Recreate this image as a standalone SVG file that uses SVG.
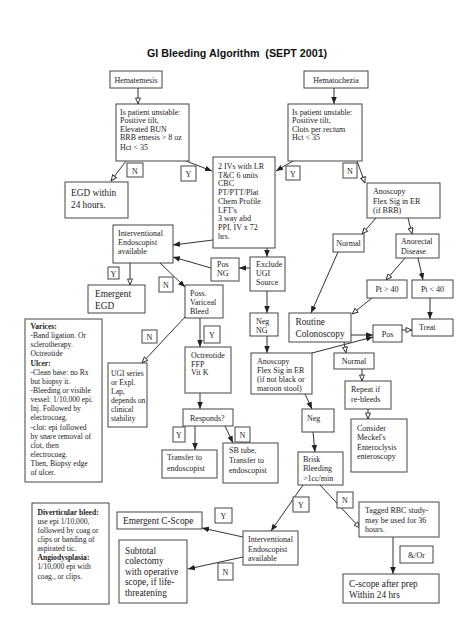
<svg xmlns="http://www.w3.org/2000/svg" width="474" height="620" viewBox="0 0 474 620">
<style>
.b{fill:#fff;stroke:#444;stroke-width:1}
.t{font-family:"Liberation Serif","Times New Roman",serif;font-size:8px;fill:#222}
.L{font-size:9.3px}
.s{font-size:7.6px}
.m{text-anchor:middle}
.bo{font-weight:bold}
.c line{stroke:#333;stroke-width:1}
.f{marker-end:url(#af)}
.h{marker-end:url(#ah)}
</style>
<defs>
<marker id="af" viewBox="0 0 10 10" refX="10" refY="5" markerWidth="7" markerHeight="7" markerUnits="userSpaceOnUse" orient="auto"><path d="M0,1 L10,5 L0,9 z" fill="#222"/></marker>
<marker id="ah" viewBox="0 0 10 10" refX="9.5" refY="5" markerWidth="7" markerHeight="7" markerUnits="userSpaceOnUse" orient="auto"><path d="M1,1.5 L9,5 L1,8.5 z" fill="#fff" stroke="#222" stroke-width="1.3"/></marker>
</defs>
<rect width="474" height="620" fill="#fff"/>
<text x="147" y="57" font-family="Liberation Sans,Arial,sans-serif" font-weight="bold" font-size="10.7" fill="#111" style="white-space:pre">GI Bleeding Algorithm  (SEPT 2001)</text>

<g class="c">
<line class="h" x1="138" y1="88" x2="138" y2="104"/>
<line class="f" x1="334" y1="88" x2="334" y2="104"/>
<line class="h" x1="126" y1="161" x2="111" y2="181"/>
<line class="f" x1="186" y1="161" x2="212" y2="171"/>
<line class="f" x1="293" y1="161" x2="276" y2="171"/>
<line class="h" x1="357" y1="161" x2="365" y2="183"/>
<line class="h" x1="376" y1="218" x2="362" y2="234"/>
<line class="h" x1="408" y1="218" x2="412" y2="234"/>
<line class="h" x1="405" y1="258" x2="386" y2="280"/>
<line class="f" x1="418" y1="258" x2="423" y2="280"/>
<line class="f" x1="430" y1="298" x2="430" y2="319"/>
<line class="f" x1="338" y1="252" x2="311" y2="313"/>
<line class="h" x1="372" y1="298" x2="352" y2="314"/>
<line class="f" x1="351" y1="335" x2="373" y2="335"/>
<line class="f" x1="312" y1="353" x2="373" y2="337"/>
<line class="h" x1="402" y1="330" x2="412" y2="330"/>
<line class="h" x1="344" y1="342" x2="346" y2="353"/>
<line class="h" x1="362" y1="369" x2="362" y2="381"/>
<line class="h" x1="368" y1="409" x2="368" y2="419"/>
<line class="f" x1="213" y1="240" x2="173" y2="245"/>
<line class="f" x1="211" y1="268" x2="173" y2="257"/>
<line class="f" x1="250" y1="268" x2="239" y2="268"/>
<line class="f" x1="267" y1="248" x2="267" y2="257"/>
<line class="h" x1="130" y1="263" x2="130" y2="285"/>
<line class="f" x1="160" y1="263" x2="185" y2="287"/>
<line class="h" x1="185" y1="317" x2="142" y2="363"/>
<line class="f" x1="200" y1="318" x2="200" y2="347"/>
<line class="f" x1="200" y1="393" x2="200" y2="409"/>
<line class="f" x1="195" y1="426" x2="195" y2="450"/>
<line class="f" x1="225" y1="426" x2="233" y2="443"/>
<line class="f" x1="267" y1="291" x2="267" y2="313"/>
<line class="f" x1="267" y1="336" x2="267" y2="353"/>
<line class="f" x1="305" y1="394" x2="312" y2="409"/>
<line class="f" x1="313" y1="432" x2="315" y2="452"/>
<line class="f" x1="303" y1="485" x2="271" y2="531"/>
<line class="h" x1="320" y1="485" x2="360" y2="528"/>
<line class="f" x1="393" y1="537" x2="393" y2="574"/>
<line class="f" x1="243" y1="537" x2="202" y2="528"/>
<line class="f" x1="243" y1="557" x2="188" y2="569"/>
</g>

<g id="hematemesis"><rect class="b" x="110" y="71" width="52" height="17"/><text class="t m" x="136" y="82.5">Hematemesis</text></g>
<g id="hematochezia"><rect class="b" x="304" y="71" width="64" height="17"/><text class="t m" x="336" y="82.5">Hematochezia</text></g>
<g id="unstable-left"><rect class="b" x="116" y="104" width="73" height="57"/>
<text class="t" x="120" y="114.5">Is patient unstable:</text><text class="t" x="120" y="123">Positive tilt,</text><text class="t" x="120" y="131.5">Elevated BUN</text><text class="t" x="120" y="140">BRB emesis &gt; 8 oz</text><text class="t" x="120" y="149.5">Hct &lt; 35</text></g>
<g id="unstable-right"><rect class="b" x="288" y="104" width="74" height="57"/>
<text class="t" x="292" y="114.5">Is patient unstable:</text><text class="t" x="292" y="123">Positive tilt,</text><text class="t" x="292" y="131.5">Clots per rectum</text><text class="t" x="292" y="140">Hct &lt; 35</text></g>
<g id="n1"><rect class="b" x="127" y="163" width="16" height="14"/><text class="t m" x="135" y="173.5">N</text></g>
<g id="y1"><rect class="b" x="181" y="166" width="15" height="15"/><text class="t m" x="188.5" y="176.5">Y</text></g>
<g id="y2"><rect class="b" x="286" y="166" width="14" height="14"/><text class="t m" x="293" y="176.5">Y</text></g>
<g id="n2"><rect class="b" x="343" y="163" width="14" height="15"/><text class="t m" x="350" y="173.5">N</text></g>
<g id="egd24"><rect class="b" x="65" y="182" width="63" height="36"/><text class="t L" x="71" y="195.5">EGD within</text><text class="t L" x="71" y="207.5">24 hours.</text></g>
<g id="ivs"><rect class="b" x="213" y="157" width="62" height="91"/>
<text class="t" x="218" y="169">2 IVs with LR</text><text class="t" x="218" y="177.7">T&amp;C 6 units</text><text class="t" x="218" y="186.4">CBC</text><text class="t" x="218" y="195.1">PT/PTT/Plat</text><text class="t" x="218" y="203.8">Chem Profile</text><text class="t" x="218" y="212.5">LFT's</text><text class="t" x="218" y="221.2">3 way abd</text><text class="t" x="218" y="229.9">PPI, IV x 72</text><text class="t" x="218" y="238.6">hrs.</text></g>
<g id="anoscopy1"><rect class="b" x="367" y="183" width="73" height="35"/><text class="t" x="373" y="194">Anoscopy</text><text class="t" x="373" y="203.5">Flex Sig in ER</text><text class="t" x="373" y="212.5">(if BRB)</text></g>
<g id="normal1"><rect class="b" x="333" y="234" width="31" height="18"/><text class="t m" x="348.5" y="245.5">Normal</text></g>
<g id="anorectal"><rect class="b" x="396" y="234" width="43" height="24"/><text class="t" x="401" y="244">Anorectal</text><text class="t" x="401" y="253.5">Disease</text></g>
<g id="pt-gt-40"><rect class="b" x="367" y="280" width="40" height="18"/><text class="t m" x="387" y="291.5">Pt &gt; 40</text></g>
<g id="pt-lt-40"><rect class="b" x="412" y="280" width="41" height="18"/><text class="t m" x="432.5" y="291.5">Pt &lt; 40</text></g>
<g id="treat"><rect class="b" x="412" y="319" width="41" height="17"/><text class="t" x="419" y="329.5">Treat</text></g>
<g id="routine"><rect class="b" x="289" y="313" width="62" height="29"/><text class="t L" x="295.5" y="325">Routine</text><text class="t L" x="295.5" y="337">Colonoscopy</text></g>
<g id="pos1"><rect class="b" x="373" y="325" width="29" height="17"/><text class="t m" x="387.5" y="336.5">Pos</text></g>
<g id="normal2"><rect class="b" x="334" y="353" width="40" height="16"/><text class="t m" x="354" y="364">Normal</text></g>
<g id="repeat"><rect class="b" x="345" y="381" width="46" height="28"/><text class="t" x="351" y="392">Repeat if</text><text class="t" x="351" y="401.5">re-bleeds</text></g>
<g id="consider"><rect class="b" x="351" y="419" width="56" height="53"/><text class="t" x="357" y="431">Consider</text><text class="t" x="357" y="440">Meckel's</text><text class="t" x="357" y="449.5">Enteroclysis</text><text class="t" x="357" y="459">enteroscopy</text></g>
<g id="interventional1"><rect class="b" x="113" y="225" width="60" height="38"/><text class="t" x="118" y="236">Interventional</text><text class="t" x="118" y="245">Endoscopist</text><text class="t" x="118" y="254">available</text></g>
<g id="posng"><rect class="b" x="211" y="258" width="28" height="23"/><text class="t" x="217" y="267">Pos</text><text class="t" x="217" y="276">NG</text></g>
<g id="exclude"><rect class="b" x="250" y="257" width="35" height="34"/><text class="t" x="256" y="267">Exclude</text><text class="t" x="256" y="276">UGI</text><text class="t" x="256" y="285">Source</text></g>
<g id="emergent-egd"><rect class="b" x="88" y="285" width="57" height="28"/><text class="t L" x="95" y="297">Emergent</text><text class="t L" x="95" y="309">EGD</text></g>
<g id="y3"><rect class="b" x="108" y="267" width="11" height="12"/><text class="t m" x="113.5" y="276.5">Y</text></g>
<g id="n3"><rect class="b" x="159" y="277" width="14" height="15"/><text class="t m" x="166" y="288">N</text></g>
<g id="variceal"><rect class="b" x="185" y="285" width="38" height="33"/><text class="t" x="190" y="296">Poss.</text><text class="t" x="190" y="305">Variceal</text><text class="t" x="190" y="314">Bleed</text></g>
<g id="varices-note"><rect class="b" x="25" y="319" width="77" height="163"/>
<text class="t s bo" x="30.5" y="329">Varices:</text>
<text class="t s" x="30.5" y="338.1">-Band ligation. Or</text>
<text class="t s" x="30.5" y="347.3">sclerotherapy.</text>
<text class="t s" x="30.5" y="356.4">Octreotide</text>
<text class="t s bo" x="30.5" y="365.6">Ulcer:</text>
<text class="t s" x="30.5" y="374.7">-Clean base: no Rx</text>
<text class="t s" x="30.5" y="383.8">but biopsy it.</text>
<text class="t s" x="30.5" y="393">-Bleeding or visible</text>
<text class="t s" x="30.5" y="402.1">vessel: 1/10,000 epi.</text>
<text class="t s" x="30.5" y="411.3">Inj. Followed by</text>
<text class="t s" x="30.5" y="420.4">electrocoag.</text>
<text class="t s" x="30.5" y="429.5">-clot: epi followed</text>
<text class="t s" x="30.5" y="438.7">by snare removal of</text>
<text class="t s" x="30.5" y="447.8">clot, then</text>
<text class="t s" x="30.5" y="457">electrocoag.</text>
<text class="t s" x="30.5" y="466.1">Then, Biopsy edge</text>
<text class="t s" x="30.5" y="475.2">of ulcer.</text></g>
<g id="n4"><rect class="b" x="142" y="330" width="15" height="13"/><text class="t m" x="149.5" y="340">N</text></g>
<g id="ugi-series"><rect class="b" x="108" y="363" width="39" height="64"/>
<text class="t s" x="111" y="375.5">UGI series</text><text class="t s" x="111" y="384.5">or Expl.</text><text class="t s" x="111" y="393.5">Lap,</text><text class="t s" x="111" y="402.5">depends on</text><text class="t s" x="111" y="411.5">clinical</text><text class="t s" x="111" y="420.5">stability</text></g>
<g id="octreotide"><rect class="b" x="185" y="347" width="46" height="46"/><text class="t" x="191" y="358">Octreotide</text><text class="t" x="191" y="366.5">FFP</text><text class="t" x="191" y="375">Vit K</text></g>
<g id="y4"><rect class="b" x="204" y="326" width="16" height="17"/><text class="t m" x="212" y="337.5">Y</text></g>
<g id="responds"><rect class="b" x="183" y="409" width="50" height="17"/><text class="t" x="190" y="420.5">Responds?</text></g>
<g id="y5"><rect class="b" x="173" y="427" width="12" height="15"/><text class="t m" x="179" y="437.5">Y</text></g>
<g id="n5"><rect class="b" x="235" y="427" width="15" height="15"/><text class="t m" x="242.5" y="437.5">N</text></g>
<g id="transfer"><rect class="b" x="162" y="450" width="55" height="28"/><text class="t" x="167" y="460">Transfer to</text><text class="t" x="167" y="470.5">endoscopist</text></g>
<g id="sb-tube"><rect class="b" x="223" y="443" width="55" height="40"/><text class="t" x="229" y="453">SB tube,</text><text class="t" x="229" y="463">Transfer to</text><text class="t" x="229" y="473">endoscopist</text></g>
<g id="negng"><rect class="b" x="250" y="313" width="28" height="23"/><text class="t" x="256" y="323.5">Neg</text><text class="t" x="256" y="333">NG</text></g>
<g id="anoscopy2"><rect class="b" x="251" y="353" width="61" height="41"/><text class="t" x="257" y="363.5">Anoscopy</text><text class="t" x="257" y="372.5">Flex Sig in ER</text><text class="t" x="257" y="381.5">(if not black or</text><text class="t" x="257" y="390.5">maroon stool)</text></g>
<g id="neg"><rect class="b" x="302" y="409" width="32" height="23"/><text class="t" x="307" y="420.5">Neg</text></g>
<g id="brisk"><rect class="b" x="298" y="452" width="45" height="33"/><text class="t" x="303" y="461.5">Brisk</text><text class="t" x="303" y="471">Bleeding</text><text class="t" x="303" y="480.5">&gt;1cc/min</text></g>
<g id="y6"><rect class="b" x="293" y="497" width="16" height="15"/><text class="t m" x="301" y="507.5">Y</text></g>
<g id="n6"><rect class="b" x="337" y="492" width="16" height="16"/><text class="t m" x="345" y="503">N</text></g>
<g id="tagged"><rect class="b" x="359" y="502" width="80" height="35"/><text class="t" x="365" y="513">Tagged RBC study-</text><text class="t" x="365" y="522.5">may be used for 36</text><text class="t" x="365" y="532">hours.</text></g>
<g id="andor"><rect class="b" x="400" y="546" width="33" height="17"/><text class="t m" x="416.5" y="557.5">&amp;/Or</text></g>
<g id="cscope"><rect class="b" x="343" y="574" width="96" height="29"/><text class="t L" x="349" y="587">C-scope after prep</text><text class="t L" x="349" y="597.5">Within 24 hrs</text></g>
<g id="interventional2"><rect class="b" x="243" y="531" width="55" height="34"/><text class="t" x="248" y="542">Interventional</text><text class="t" x="248" y="551.5">Endoscopist</text><text class="t" x="248" y="561">available</text></g>
<g id="emergent-cscope"><rect class="b" x="117" y="512" width="85" height="17"/><text class="t L" x="123" y="524">Emergent C-Scope</text></g>
<g id="y7"><rect class="b" x="215" y="508" width="17" height="15"/><text class="t m" x="223.5" y="519">Y</text></g>
<g id="subtotal"><rect class="b" x="119" y="540" width="68" height="63"/><text class="t L" x="125" y="553.5">Subtotal</text><text class="t L" x="125" y="564">colectomy</text><text class="t L" x="125" y="574.5">with operative</text><text class="t L" x="125" y="585">scope, if life-</text><text class="t L" x="125" y="595.5">threatening</text></g>
<g id="n7"><rect class="b" x="218" y="563" width="15" height="17"/><text class="t m" x="225.5" y="575">N</text></g>
<g id="diverticular-note"><rect class="b" x="32" y="503" width="77" height="101"/>
<text class="t s bo" x="37.5" y="514.5">Diverticular bleed:</text>
<text class="t s" x="37.5" y="524">use epi 1/10,000,</text>
<text class="t s" x="37.5" y="533">followed by coag or</text>
<text class="t s" x="37.5" y="542">clips or banding of</text>
<text class="t s" x="37.5" y="551">aspirated tic.</text>
<text class="t s bo" x="37.5" y="560">Angiodysplasia:</text>
<text class="t s" x="37.5" y="569">1/10,000 epi with</text>
<text class="t s" x="37.5" y="578.5">coag., or clips.</text></g>
</svg>
